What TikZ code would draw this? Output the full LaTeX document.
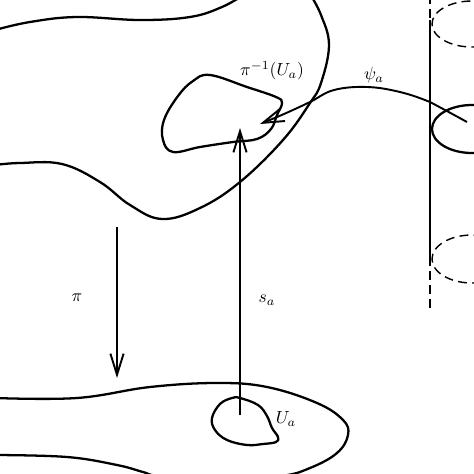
\documentclass[tikz,border=0pt]{standalone}
\usepackage{amsmath}
\usepackage{tikz}
\usetikzlibrary{arrows.meta, positioning}

\begin{document}
\begin{tikzpicture}[
    x=0.02cm, y=-0.02cm,
    blob/.style={line width=1.3pt, line join=round},
    fiberline/.style={line width=1.2pt},
    ghost/.style={line width=0.8pt, dash pattern=on 5pt off 3pt},
    maparrow/.style={line width=1.1pt, -{Straight Barb[length=12pt, width=7.5pt, line width=1.1pt]}},
    maplabel/.style={inner sep=1pt}
]

\useasboundingbox (0,0) rectangle (474,474);
\clip (0,0) rectangle (474,474);

% Total space E
\draw[blob] plot[smooth, tension=0.65] coordinates {(-5,30) (30,22) (77,17) (140,20) (190,17) (222,7) (245,-6)};
\draw[blob] plot[smooth, tension=0.65] coordinates {(310,-6) (321,15) (329,45) (321,83) (310,103) (283,140) (240,182) (200,208) (162,219) (130,205) (100,182) (62,164) (20,163) (-5,165)};

% Preimage of U_a
\draw[blob] plot[smooth cycle, tension=0.65] coordinates {(210,75) (247,87) (276,97) (282,103) (277,115) (271,129) (257,139) (233,142) (200,147) (173,152) (163,140) (164,120) (178,96) (193,81)};
\node[maplabel] (preim) at (272,71) {$\pi^{-1}(U_a)$};

% Base space M
\draw[blob] plot[smooth, tension=0.65] coordinates {(-5,398) (77,398) (150,387) (217,383) (267,387) (317,403) (343,420) (348,435) (337,453) (310,468) (280,476) (220,478) (160,476) (143,472) (117,465) (67,457) (-5,455)};

% Neighbourhood U_a
\draw[blob] plot[smooth cycle, tension=0.65] coordinates {(240,398) (258,405) (267,416) (272,428) (278,437) (276,442) (263,444) (247,445) (227,440) (215,430) (212,418) (220,404) (232,398)};
\node[maplabel] (ua) at (286,419) {$U_a$};

% Model fiber with its local pieces
\draw[ghost] (430,-5) -- (430,20);
\draw[fiberline] (430,20) -- (430,257);
\draw[ghost] (430,257) -- (430,310);
\draw[ghost] (472,24) ellipse [x radius=40, y radius=23];
\draw[blob] (472,129) ellipse [x radius=40, y radius=24];
\draw[ghost] (472,259) ellipse [x radius=40, y radius=24];

% Coordinates for the maps
\coordinate (pitop) at (117,227);
\coordinate (pibot) at (117,378);
\coordinate (sabot) at (240,415);
\coordinate (satop) at (240,128);
\coordinate (psistart) at (467,122);
\coordinate (psiend) at (260,124);

% Maps
\draw[maparrow] (pitop) -- (pibot);
\node[maplabel] (pilabel) at (77,298) {$\pi$};
\draw[maparrow] (sabot) -- (satop);
\node[maplabel] (salabel) at (267,300) {$s_a$};
\draw[maparrow] plot[smooth, tension=0.65] coordinates {(psistart) (445,110) (430,102) (400,92) (367,87) (334,90) (310,102) (284,114) (psiend)};
\node[maplabel] (psilabel) at (374,75) {$\psi_a$};

\end{tikzpicture}
\end{document}
